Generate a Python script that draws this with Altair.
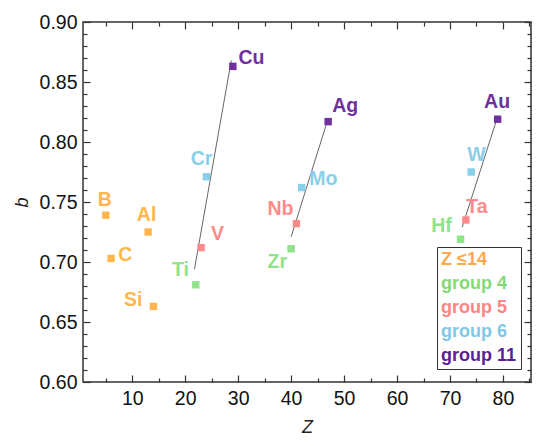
import altair as alt
import pandas as pd

# ---- data ----
elements = ["B", "C", "Al", "Si", "Ti", "V", "Cr", "Cu",
            "Zr", "Nb", "Mo", "Ag", "Hf", "Ta", "W", "Au"]
z_values = [5, 6, 13, 14, 22, 23, 24, 29, 40, 41, 42, 47, 72, 73, 74, 79]
b_values = [0.739, 0.703, 0.725, 0.663, 0.681, 0.712, 0.771, 0.863,
            0.711, 0.732, 0.762, 0.817, 0.719, 0.735, 0.775, 0.819]
groups = ["Z ≤14"] * 4 + ["group 4", "group 5", "group 6", "group 11"] * 3

# label anchor positions (data coordinates)
label_z = [4.8, 8.7, 12.7, 10.2, 19.1, 26.1, 23.1, 32.5,
           37.4, 38.0, 46.1, 50.2, 68.4, 75.1, 75.0, 78.9]
label_b = [0.752, 0.706, 0.739, 0.668, 0.693, 0.723, 0.786, 0.870,
           0.700, 0.744, 0.769, 0.830, 0.730, 0.746, 0.789, 0.833]

# fitted guide lines (end points)
fit_line = [1, 1, 2, 2, 3, 3]
fit_z = [21.75, 28.7, 40.0, 46.6, 72.3, 78.7]
fit_b = [0.694, 0.868, 0.721, 0.814, 0.729, 0.817]

legend_labels = ["Z ≤14", "group 4", "group 5", "group 6", "group 11"]
series_colors = ["#FFB74D", "#8FE388", "#FF8A8A", "#89CFEA", "#7030A0"]
legend_text_colors = ["#FFA94D", "#84D977", "#FF8585", "#80C8E6", "#5A1E96"]

x_major = [10, 20, 30, 40, 50, 60, 70, 80]
x_minor = [5, 15, 25, 35, 45, 55, 65, 75, 85]
y_major = [0.60, 0.65, 0.70, 0.75, 0.80, 0.85, 0.90]
y_minor = [round(0.60 + 0.01 * i, 2) for i in range(31) if i % 5 != 0]

x_domain = [0.7, 85.3]
y_domain = [0.60, 0.90]

FONT = "Liberation Sans"
INK = "#333333"

pts = pd.DataFrame({"el": elements, "Z": z_values, "b": b_values, "grp": groups,
                    "lz": label_z, "lb": label_b})
fits = pd.DataFrame({"line": fit_line, "Z": fit_z, "b": fit_b})

expr_parts = []
for lab, col in zip(legend_labels[1:], legend_text_colors[1:]):
    expr_parts.append(f"datum.label === '{lab}' ? '{col}' : ")
label_color_expr = "".join(expr_parts) + f"'{legend_text_colors[0]}'"

legend = alt.Legend(orient="none", legendX=354, legendY=225, title=None,
                    symbolSize=0, symbolOpacity=0, symbolStrokeWidth=0,
                    labelOffset={"expr": "-18"}, labelFont=FONT, labelFontSize=18,
                    labelFontWeight="bold", labelColor={"expr": label_color_expr},
                    padding=4, rowPadding=6, strokeColor=INK, fillColor="white")

color = alt.Color("grp:N", scale=alt.Scale(domain=legend_labels, range=series_colors),
                  legend=legend)


def tick_axis(orient, values, size):
    return alt.Axis(orient=orient, values=values, offset=-size, tickSize=size,
                    domain=False, grid=False, labels=False, title=None)


xs = alt.Scale(domain=x_domain, nice=False, zero=False)
ys = alt.Scale(domain=y_domain, nice=False, zero=False)

x_label_axis = alt.Axis(orient="bottom", values=x_major, offset=-7, tickSize=7,
                        domain=False, grid=False, labelPadding=7, labelFont=FONT,
                        labelFontSize=19.5, labelColor="#111", title="Z",
                        titleFont=FONT, titleFontSize=18, titleFontStyle="italic",
                        titleFontWeight="normal", titlePadding=11, titleColor="#222")
y_label_axis = alt.Axis(orient="left", values=y_major, offset=-7, tickSize=7,
                        domain=False, grid=False, labelPadding=6, labelFont=FONT,
                        labelFontSize=19.5, labelColor="#111", format=".2f", title="b",
                        titleFont=FONT, titleFontSize=18, titleFontStyle="italic",
                        titleFontWeight="normal", titlePadding=8, titleColor="#222")

points = alt.Chart(pts).mark_square(size=55, opacity=1).encode(
    x=alt.X("Z:Q", scale=xs, axis=x_label_axis),
    y=alt.Y("b:Q", scale=ys, axis=y_label_axis),
    color=color,
)

lines = alt.Chart(fits).mark_line(color="#666666", strokeWidth=1).encode(
    x=alt.X("Z:Q", scale=xs, axis=tick_axis("bottom", x_minor, 4)),
    y=alt.Y("b:Q", scale=ys, axis=tick_axis("left", y_minor, 4)),
    detail="line:N",
)

labels = alt.Chart(pts).mark_text(font=FONT, fontSize=19.5, fontWeight="bold",
                                  align="center", baseline="middle").encode(
    x=alt.X("lz:Q", scale=xs, axis=tick_axis("top", x_major, 7)),
    y=alt.Y("lb:Q", scale=ys, axis=tick_axis("right", y_major, 7)),
    text="el:N",
    color=color,
)

ghost = alt.Chart(pts).mark_point(opacity=0).encode(
    x=alt.X("Z:Q", scale=xs, axis=tick_axis("top", x_minor, 4)),
    y=alt.Y("b:Q", scale=ys, axis=tick_axis("right", y_minor, 4)),
)

chart = alt.layer(lines, points, labels, ghost).resolve_axis(
    x="independent", y="independent"
).properties(
    width=448, height=360,
    autosize=alt.AutoSizeParams(type="none"),
    padding={"left": 75, "top": 14, "right": 10, "bottom": 60},
).configure_view(
    stroke=INK, strokeWidth=1.5
).configure_axis(
    tickColor=INK, tickWidth=1.2
)

chart.save("out.html", embed_options={"renderer": "svg", "actions": False})
